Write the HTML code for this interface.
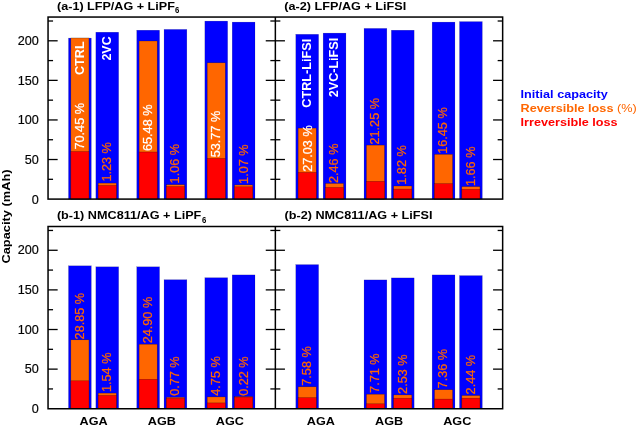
<!DOCTYPE html>
<html><head><meta charset="utf-8"><title>Capacity chart</title>
<style>
html,body{margin:0;padding:0;background:#fff;}
body{width:637px;height:426px;overflow:hidden;}
svg{display:block;font-family:"Liberation Sans",Arial,sans-serif;font-size:12.0px;}
.b{font-weight:bold;font-size:11.65px;}
.n{font-weight:bold;}
.ax{stroke:#000;stroke-width:1.5;fill:none;}
.tk{stroke:#000;stroke-width:1.3;fill:none;}
</style></head><body>
<svg width="637" height="426" viewBox="0 0 637 426">
<rect x="0" y="0" width="637" height="426" fill="#fff"/>
<rect x="68.50" y="38.10" width="22.8" height="161.00" fill="#0000ff" stroke="#000" stroke-opacity="0.3" stroke-width="0.4"/>
<rect x="70.85" y="38.00" width="18.1" height="161.10" fill="#ff6600" stroke="#000" stroke-opacity="0.45" stroke-width="0.5"/>
<rect x="70.85" y="151.50" width="18.1" height="47.60" fill="#ff0000" stroke="#000" stroke-opacity="0.45" stroke-width="0.5"/>
<rect x="95.85" y="32.20" width="22.8" height="166.90" fill="#0000ff" stroke="#000" stroke-opacity="0.3" stroke-width="0.4"/>
<rect x="98.20" y="183.10" width="18.1" height="16.00" fill="#ff6600" stroke="#000" stroke-opacity="0.45" stroke-width="0.5"/>
<rect x="98.20" y="185.40" width="18.1" height="13.70" fill="#ff0000" stroke="#000" stroke-opacity="0.45" stroke-width="0.5"/>
<rect x="136.75" y="30.20" width="22.8" height="168.90" fill="#0000ff" stroke="#000" stroke-opacity="0.3" stroke-width="0.4"/>
<rect x="139.10" y="41.00" width="18.1" height="158.10" fill="#ff6600" stroke="#000" stroke-opacity="0.45" stroke-width="0.5"/>
<rect x="139.10" y="152.00" width="18.1" height="47.10" fill="#ff0000" stroke="#000" stroke-opacity="0.45" stroke-width="0.5"/>
<rect x="164.05" y="29.40" width="22.8" height="169.70" fill="#0000ff" stroke="#000" stroke-opacity="0.3" stroke-width="0.4"/>
<rect x="166.40" y="184.70" width="18.1" height="14.40" fill="#ff6600" stroke="#000" stroke-opacity="0.45" stroke-width="0.5"/>
<rect x="166.40" y="186.50" width="18.1" height="12.60" fill="#ff0000" stroke="#000" stroke-opacity="0.45" stroke-width="0.5"/>
<rect x="204.85" y="21.10" width="22.8" height="178.00" fill="#0000ff" stroke="#000" stroke-opacity="0.3" stroke-width="0.4"/>
<rect x="207.20" y="62.80" width="18.1" height="136.30" fill="#ff6600" stroke="#000" stroke-opacity="0.45" stroke-width="0.5"/>
<rect x="207.20" y="158.40" width="18.1" height="40.70" fill="#ff0000" stroke="#000" stroke-opacity="0.45" stroke-width="0.5"/>
<rect x="232.20" y="22.10" width="22.8" height="177.00" fill="#0000ff" stroke="#000" stroke-opacity="0.3" stroke-width="0.4"/>
<rect x="234.55" y="184.90" width="18.1" height="14.20" fill="#ff6600" stroke="#000" stroke-opacity="0.45" stroke-width="0.5"/>
<rect x="234.55" y="186.80" width="18.1" height="12.30" fill="#ff0000" stroke="#000" stroke-opacity="0.45" stroke-width="0.5"/>
<text transform="translate(84.10,149.50) rotate(-90) scale(1.055,1)" fill="#fff" stroke="#fff" stroke-width="0.25">70.45 %</text>
<text transform="translate(111.45,181.60) rotate(-90) scale(1.055,1)" fill="#ff6600" stroke="#ff6600" stroke-width="0.25">1.23 %</text>
<text transform="translate(152.35,151.00) rotate(-90) scale(1.055,1)" fill="#fff" stroke="#fff" stroke-width="0.25">65.48 %</text>
<text transform="translate(179.05,183.40) rotate(-90) scale(1.055,1)" fill="#ff6600" stroke="#ff6600" stroke-width="0.25">1.06 %</text>
<text transform="translate(220.45,157.30) rotate(-90) scale(1.055,1)" fill="#fff" stroke="#fff" stroke-width="0.25">53.77 %</text>
<text transform="translate(247.80,183.90) rotate(-90) scale(1.055,1)" fill="#ff6600" stroke="#ff6600" stroke-width="0.25">1.07 %</text>
<text class="n" transform="translate(84.10,41.30) rotate(-90) scale(1.055,1)" text-anchor="end" fill="#fff">CTRL</text>
<text class="n" transform="translate(111.45,36.40) rotate(-90) scale(1.035,1)" text-anchor="end" fill="#fff">2VC</text>
<rect x="295.80" y="34.30" width="22.8" height="164.80" fill="#0000ff" stroke="#000" stroke-opacity="0.3" stroke-width="0.4"/>
<rect x="298.15" y="128.10" width="18.1" height="71.00" fill="#ff6600" stroke="#000" stroke-opacity="0.45" stroke-width="0.5"/>
<rect x="298.15" y="172.40" width="18.1" height="26.70" fill="#ff0000" stroke="#000" stroke-opacity="0.45" stroke-width="0.5"/>
<rect x="323.15" y="33.10" width="22.8" height="166.00" fill="#0000ff" stroke="#000" stroke-opacity="0.3" stroke-width="0.4"/>
<rect x="325.50" y="183.40" width="18.1" height="15.70" fill="#ff6600" stroke="#000" stroke-opacity="0.45" stroke-width="0.5"/>
<rect x="325.50" y="187.40" width="18.1" height="11.70" fill="#ff0000" stroke="#000" stroke-opacity="0.45" stroke-width="0.5"/>
<rect x="364.05" y="28.40" width="22.8" height="170.70" fill="#0000ff" stroke="#000" stroke-opacity="0.3" stroke-width="0.4"/>
<rect x="366.40" y="145.10" width="18.1" height="54.00" fill="#ff6600" stroke="#000" stroke-opacity="0.45" stroke-width="0.5"/>
<rect x="366.40" y="181.30" width="18.1" height="17.80" fill="#ff0000" stroke="#000" stroke-opacity="0.45" stroke-width="0.5"/>
<rect x="391.35" y="30.20" width="22.8" height="168.90" fill="#0000ff" stroke="#000" stroke-opacity="0.3" stroke-width="0.4"/>
<rect x="393.70" y="186.00" width="18.1" height="13.10" fill="#ff6600" stroke="#000" stroke-opacity="0.45" stroke-width="0.5"/>
<rect x="393.70" y="189.10" width="18.1" height="10.00" fill="#ff0000" stroke="#000" stroke-opacity="0.45" stroke-width="0.5"/>
<rect x="432.15" y="22.10" width="22.8" height="177.00" fill="#0000ff" stroke="#000" stroke-opacity="0.3" stroke-width="0.4"/>
<rect x="434.50" y="154.30" width="18.1" height="44.80" fill="#ff6600" stroke="#000" stroke-opacity="0.45" stroke-width="0.5"/>
<rect x="434.50" y="183.60" width="18.1" height="15.50" fill="#ff0000" stroke="#000" stroke-opacity="0.45" stroke-width="0.5"/>
<rect x="459.50" y="21.60" width="22.8" height="177.50" fill="#0000ff" stroke="#000" stroke-opacity="0.3" stroke-width="0.4"/>
<rect x="461.85" y="186.60" width="18.1" height="12.50" fill="#ff6600" stroke="#000" stroke-opacity="0.45" stroke-width="0.5"/>
<rect x="461.85" y="189.30" width="18.1" height="9.80" fill="#ff0000" stroke="#000" stroke-opacity="0.45" stroke-width="0.5"/>
<text transform="translate(311.80,171.80) rotate(-90) scale(1.055,1)" fill="#fff" stroke="#fff" stroke-width="0.25">27.03 %</text>
<text transform="translate(338.25,183.00) rotate(-90) scale(1.055,1)" fill="#ff6600" stroke="#ff6600" stroke-width="0.25">2.46 %</text>
<text transform="translate(379.25,144.50) rotate(-90) scale(1.055,1)" fill="#ff6600" stroke="#ff6600" stroke-width="0.25">21.25 %</text>
<text transform="translate(406.45,184.70) rotate(-90) scale(1.055,1)" fill="#ff6600" stroke="#ff6600" stroke-width="0.25">1.82 %</text>
<text transform="translate(447.45,153.80) rotate(-90) scale(1.055,1)" fill="#ff6600" stroke="#ff6600" stroke-width="0.25">16.45 %</text>
<text transform="translate(474.60,186.00) rotate(-90) scale(1.055,1)" fill="#ff6600" stroke="#ff6600" stroke-width="0.25">1.66 %</text>
<text class="n" transform="translate(311.40,38.80) rotate(-90) scale(1.055,1)" text-anchor="end" fill="#fff">CTRL-LiFSI</text>
<text class="n" transform="translate(338.05,37.80) rotate(-90) scale(1.05,1)" text-anchor="end" fill="#fff">2VC-LiFSI</text>
<rect x="68.50" y="265.80" width="22.8" height="142.95" fill="#0000ff" stroke="#000" stroke-opacity="0.3" stroke-width="0.4"/>
<rect x="70.85" y="339.80" width="18.1" height="68.95" fill="#ff6600" stroke="#000" stroke-opacity="0.45" stroke-width="0.5"/>
<rect x="70.85" y="380.80" width="18.1" height="27.95" fill="#ff0000" stroke="#000" stroke-opacity="0.45" stroke-width="0.5"/>
<rect x="95.85" y="266.80" width="22.8" height="141.95" fill="#0000ff" stroke="#000" stroke-opacity="0.3" stroke-width="0.4"/>
<rect x="98.20" y="393.10" width="18.1" height="15.65" fill="#ff6600" stroke="#000" stroke-opacity="0.45" stroke-width="0.5"/>
<rect x="98.20" y="395.40" width="18.1" height="13.35" fill="#ff0000" stroke="#000" stroke-opacity="0.45" stroke-width="0.5"/>
<rect x="136.75" y="266.80" width="22.8" height="141.95" fill="#0000ff" stroke="#000" stroke-opacity="0.3" stroke-width="0.4"/>
<rect x="139.10" y="344.20" width="18.1" height="64.55" fill="#ff6600" stroke="#000" stroke-opacity="0.45" stroke-width="0.5"/>
<rect x="139.10" y="379.30" width="18.1" height="29.45" fill="#ff0000" stroke="#000" stroke-opacity="0.45" stroke-width="0.5"/>
<rect x="164.05" y="279.70" width="22.8" height="129.05" fill="#0000ff" stroke="#000" stroke-opacity="0.3" stroke-width="0.4"/>
<rect x="166.40" y="397.30" width="18.1" height="11.45" fill="#ff6600" stroke="#000" stroke-opacity="0.45" stroke-width="0.5"/>
<rect x="166.40" y="398.30" width="18.1" height="10.45" fill="#ff0000" stroke="#000" stroke-opacity="0.45" stroke-width="0.5"/>
<rect x="204.85" y="277.70" width="22.8" height="131.05" fill="#0000ff" stroke="#000" stroke-opacity="0.3" stroke-width="0.4"/>
<rect x="207.20" y="396.90" width="18.1" height="11.85" fill="#ff6600" stroke="#000" stroke-opacity="0.45" stroke-width="0.5"/>
<rect x="207.20" y="402.90" width="18.1" height="5.85" fill="#ff0000" stroke="#000" stroke-opacity="0.45" stroke-width="0.5"/>
<rect x="232.20" y="274.90" width="22.8" height="133.85" fill="#0000ff" stroke="#000" stroke-opacity="0.3" stroke-width="0.4"/>
<rect x="234.55" y="396.60" width="18.1" height="12.15" fill="#ff6600" stroke="#000" stroke-opacity="0.45" stroke-width="0.5"/>
<rect x="234.55" y="397.10" width="18.1" height="11.65" fill="#ff0000" stroke="#000" stroke-opacity="0.45" stroke-width="0.5"/>
<text transform="translate(83.70,339.40) rotate(-90) scale(1.055,1)" fill="#ff6600" stroke="#ff6600" stroke-width="0.25">28.85 %</text>
<text transform="translate(111.45,392.00) rotate(-90) scale(1.055,1)" fill="#ff6600" stroke="#ff6600" stroke-width="0.25">1.54 %</text>
<text transform="translate(151.95,343.30) rotate(-90) scale(1.055,1)" fill="#ff6600" stroke="#ff6600" stroke-width="0.25">24.90 %</text>
<text transform="translate(179.35,395.80) rotate(-90) scale(1.055,1)" fill="#ff6600" stroke="#ff6600" stroke-width="0.25">0.77 %</text>
<text transform="translate(220.15,395.70) rotate(-90) scale(1.055,1)" fill="#ff6600" stroke="#ff6600" stroke-width="0.25">4.75 %</text>
<text transform="translate(247.50,395.80) rotate(-90) scale(1.055,1)" fill="#ff6600" stroke="#ff6600" stroke-width="0.25">0.22 %</text>
<rect x="295.80" y="264.60" width="22.8" height="144.15" fill="#0000ff" stroke="#000" stroke-opacity="0.3" stroke-width="0.4"/>
<rect x="298.15" y="386.80" width="18.1" height="21.95" fill="#ff6600" stroke="#000" stroke-opacity="0.45" stroke-width="0.5"/>
<rect x="298.15" y="397.60" width="18.1" height="11.15" fill="#ff0000" stroke="#000" stroke-opacity="0.45" stroke-width="0.5"/>
<rect x="364.05" y="279.90" width="22.8" height="128.85" fill="#0000ff" stroke="#000" stroke-opacity="0.3" stroke-width="0.4"/>
<rect x="366.40" y="394.20" width="18.1" height="14.55" fill="#ff6600" stroke="#000" stroke-opacity="0.45" stroke-width="0.5"/>
<rect x="366.40" y="403.80" width="18.1" height="4.95" fill="#ff0000" stroke="#000" stroke-opacity="0.45" stroke-width="0.5"/>
<rect x="391.35" y="277.90" width="22.8" height="130.85" fill="#0000ff" stroke="#000" stroke-opacity="0.3" stroke-width="0.4"/>
<rect x="393.70" y="394.90" width="18.1" height="13.85" fill="#ff6600" stroke="#000" stroke-opacity="0.45" stroke-width="0.5"/>
<rect x="393.70" y="398.20" width="18.1" height="10.55" fill="#ff0000" stroke="#000" stroke-opacity="0.45" stroke-width="0.5"/>
<rect x="432.15" y="274.90" width="22.8" height="133.85" fill="#0000ff" stroke="#000" stroke-opacity="0.3" stroke-width="0.4"/>
<rect x="434.50" y="389.70" width="18.1" height="19.05" fill="#ff6600" stroke="#000" stroke-opacity="0.45" stroke-width="0.5"/>
<rect x="434.50" y="399.10" width="18.1" height="9.65" fill="#ff0000" stroke="#000" stroke-opacity="0.45" stroke-width="0.5"/>
<rect x="459.50" y="275.60" width="22.8" height="133.15" fill="#0000ff" stroke="#000" stroke-opacity="0.3" stroke-width="0.4"/>
<rect x="461.85" y="395.50" width="18.1" height="13.25" fill="#ff6600" stroke="#000" stroke-opacity="0.45" stroke-width="0.5"/>
<rect x="461.85" y="398.20" width="18.1" height="10.55" fill="#ff0000" stroke="#000" stroke-opacity="0.45" stroke-width="0.5"/>
<text transform="translate(311.10,385.70) rotate(-90) scale(1.055,1)" fill="#ff6600" stroke="#ff6600" stroke-width="0.25">7.58 %</text>
<text transform="translate(379.35,392.90) rotate(-90) scale(1.055,1)" fill="#ff6600" stroke="#ff6600" stroke-width="0.25">7.71 %</text>
<text transform="translate(406.65,393.90) rotate(-90) scale(1.055,1)" fill="#ff6600" stroke="#ff6600" stroke-width="0.25">2.53 %</text>
<text transform="translate(447.45,388.40) rotate(-90) scale(1.055,1)" fill="#ff6600" stroke="#ff6600" stroke-width="0.25">7.36 %</text>
<text transform="translate(474.80,394.40) rotate(-90) scale(1.055,1)" fill="#ff6600" stroke="#ff6600" stroke-width="0.25">2.44 %</text>
<rect class="ax" x="48.05" y="17.05" width="454.59999999999997" height="182.04999999999998"/>
<line class="ax" x1="275.35" y1="17.05" x2="275.35" y2="199.1"/>
<line class="tk" x1="48.05" y1="179.31" x2="53.05" y2="179.31"/>
<line class="tk" x1="497.65" y1="179.31" x2="502.65" y2="179.31"/>
<line class="tk" x1="270.35" y1="179.31" x2="280.35" y2="179.31"/>
<line class="tk" x1="48.05" y1="159.52" x2="57.65" y2="159.52"/>
<line class="tk" x1="493.04999999999995" y1="159.52" x2="502.65" y2="159.52"/>
<line class="tk" x1="265.75" y1="159.52" x2="284.95000000000005" y2="159.52"/>
<line class="tk" x1="48.05" y1="139.74" x2="53.05" y2="139.74"/>
<line class="tk" x1="497.65" y1="139.74" x2="502.65" y2="139.74"/>
<line class="tk" x1="270.35" y1="139.74" x2="280.35" y2="139.74"/>
<line class="tk" x1="48.05" y1="119.95" x2="57.65" y2="119.95"/>
<line class="tk" x1="493.04999999999995" y1="119.95" x2="502.65" y2="119.95"/>
<line class="tk" x1="265.75" y1="119.95" x2="284.95000000000005" y2="119.95"/>
<line class="tk" x1="48.05" y1="100.16" x2="53.05" y2="100.16"/>
<line class="tk" x1="497.65" y1="100.16" x2="502.65" y2="100.16"/>
<line class="tk" x1="270.35" y1="100.16" x2="280.35" y2="100.16"/>
<line class="tk" x1="48.05" y1="80.37" x2="57.65" y2="80.37"/>
<line class="tk" x1="493.04999999999995" y1="80.37" x2="502.65" y2="80.37"/>
<line class="tk" x1="265.75" y1="80.37" x2="284.95000000000005" y2="80.37"/>
<line class="tk" x1="48.05" y1="60.58" x2="53.05" y2="60.58"/>
<line class="tk" x1="497.65" y1="60.58" x2="502.65" y2="60.58"/>
<line class="tk" x1="270.35" y1="60.58" x2="280.35" y2="60.58"/>
<line class="tk" x1="48.05" y1="40.80" x2="57.65" y2="40.80"/>
<line class="tk" x1="493.04999999999995" y1="40.80" x2="502.65" y2="40.80"/>
<line class="tk" x1="265.75" y1="40.80" x2="284.95000000000005" y2="40.80"/>
<line class="tk" x1="48.05" y1="21.01" x2="53.05" y2="21.01"/>
<line class="tk" x1="497.65" y1="21.01" x2="502.65" y2="21.01"/>
<line class="tk" x1="270.35" y1="21.01" x2="280.35" y2="21.01"/>
<text transform="translate(38.85,203.55) scale(1.055,1)" text-anchor="end" stroke="#000" stroke-width="0.15">0</text>
<text transform="translate(38.85,163.97) scale(1.055,1)" text-anchor="end" stroke="#000" stroke-width="0.15">50</text>
<text transform="translate(38.85,124.40) scale(1.055,1)" text-anchor="end" stroke="#000" stroke-width="0.15">100</text>
<text transform="translate(38.85,84.82) scale(1.055,1)" text-anchor="end" stroke="#000" stroke-width="0.15">150</text>
<text transform="translate(38.85,45.25) scale(1.055,1)" text-anchor="end" stroke="#000" stroke-width="0.15">200</text>
<rect class="ax" x="48.05" y="226.5" width="454.59999999999997" height="182.25"/>
<line class="ax" x1="275.35" y1="226.5" x2="275.35" y2="408.75"/>
<line class="tk" x1="48.05" y1="388.94" x2="53.05" y2="388.94"/>
<line class="tk" x1="497.65" y1="388.94" x2="502.65" y2="388.94"/>
<line class="tk" x1="270.35" y1="388.94" x2="280.35" y2="388.94"/>
<line class="tk" x1="48.05" y1="369.13" x2="57.65" y2="369.13"/>
<line class="tk" x1="493.04999999999995" y1="369.13" x2="502.65" y2="369.13"/>
<line class="tk" x1="265.75" y1="369.13" x2="284.95000000000005" y2="369.13"/>
<line class="tk" x1="48.05" y1="349.32" x2="53.05" y2="349.32"/>
<line class="tk" x1="497.65" y1="349.32" x2="502.65" y2="349.32"/>
<line class="tk" x1="270.35" y1="349.32" x2="280.35" y2="349.32"/>
<line class="tk" x1="48.05" y1="329.51" x2="57.65" y2="329.51"/>
<line class="tk" x1="493.04999999999995" y1="329.51" x2="502.65" y2="329.51"/>
<line class="tk" x1="265.75" y1="329.51" x2="284.95000000000005" y2="329.51"/>
<line class="tk" x1="48.05" y1="309.70" x2="53.05" y2="309.70"/>
<line class="tk" x1="497.65" y1="309.70" x2="502.65" y2="309.70"/>
<line class="tk" x1="270.35" y1="309.70" x2="280.35" y2="309.70"/>
<line class="tk" x1="48.05" y1="289.89" x2="57.65" y2="289.89"/>
<line class="tk" x1="493.04999999999995" y1="289.89" x2="502.65" y2="289.89"/>
<line class="tk" x1="265.75" y1="289.89" x2="284.95000000000005" y2="289.89"/>
<line class="tk" x1="48.05" y1="270.08" x2="53.05" y2="270.08"/>
<line class="tk" x1="497.65" y1="270.08" x2="502.65" y2="270.08"/>
<line class="tk" x1="270.35" y1="270.08" x2="280.35" y2="270.08"/>
<line class="tk" x1="48.05" y1="250.27" x2="57.65" y2="250.27"/>
<line class="tk" x1="493.04999999999995" y1="250.27" x2="502.65" y2="250.27"/>
<line class="tk" x1="265.75" y1="250.27" x2="284.95000000000005" y2="250.27"/>
<line class="tk" x1="48.05" y1="230.46" x2="53.05" y2="230.46"/>
<line class="tk" x1="497.65" y1="230.46" x2="502.65" y2="230.46"/>
<line class="tk" x1="270.35" y1="230.46" x2="280.35" y2="230.46"/>
<text transform="translate(38.85,413.20) scale(1.055,1)" text-anchor="end" stroke="#000" stroke-width="0.15">0</text>
<text transform="translate(38.85,373.48) scale(1.055,1)" text-anchor="end" stroke="#000" stroke-width="0.15">50</text>
<text transform="translate(38.85,333.76) scale(1.055,1)" text-anchor="end" stroke="#000" stroke-width="0.15">100</text>
<text transform="translate(38.85,294.04) scale(1.055,1)" text-anchor="end" stroke="#000" stroke-width="0.15">150</text>
<text transform="translate(38.85,254.32) scale(1.055,1)" text-anchor="end" stroke="#000" stroke-width="0.15">200</text>
<text class="b" transform="translate(57.0,10.3) scale(1.0815,1)">(a-1) LFP/AG + LiPF</text>
<text class="b" style="font-size:8.6px" transform="translate(175.0,13.45) scale(0.9,1)">6</text>
<text class="b" transform="translate(284.3,10.3) scale(1.0867,1)">(a-2) LFP/AG + LiFSI</text>
<text class="b" transform="translate(56.9,219.2) scale(1.0867,1)">(b-1) NMC811/AG + LiPF</text>
<text class="b" style="font-size:8.6px" transform="translate(202.0,223.4) scale(0.9,1)">6</text>
<text class="b" transform="translate(284.5,219.2) scale(1.0867,1)">(b-2) NMC811/AG + LiFSI</text>
<text class="b" transform="translate(93.58,425.2) scale(1.0867,1)" text-anchor="middle">AGA</text>
<text class="b" transform="translate(161.80,425.2) scale(1.0867,1)" text-anchor="middle">AGB</text>
<text class="b" transform="translate(229.92,425.2) scale(1.0867,1)" text-anchor="middle">AGC</text>
<text class="b" transform="translate(320.88,425.2) scale(1.0867,1)" text-anchor="middle">AGA</text>
<text class="b" transform="translate(389.10,425.2) scale(1.0867,1)" text-anchor="middle">AGB</text>
<text class="b" transform="translate(457.23,425.2) scale(1.0867,1)" text-anchor="middle">AGC</text>
<text class="b" style="font-size:11.4px" transform="translate(10.3,216.5) rotate(-90) scale(1.127,1)" text-anchor="middle">Capacity (mAh)</text>
<text class="b" transform="translate(520.6,98.1) scale(1.0867,1)" fill="#0000ff">Initial capacity</text>
<text class="b" transform="translate(520.6,112.0) scale(1.0867,1)" fill="#ff6600">Reversible loss <tspan font-weight="normal">(%)</tspan></text>
<text class="b" transform="translate(520.6,126.4) scale(1.0867,1)" fill="#ff0000">Irreversible loss</text>
</svg></body></html>
